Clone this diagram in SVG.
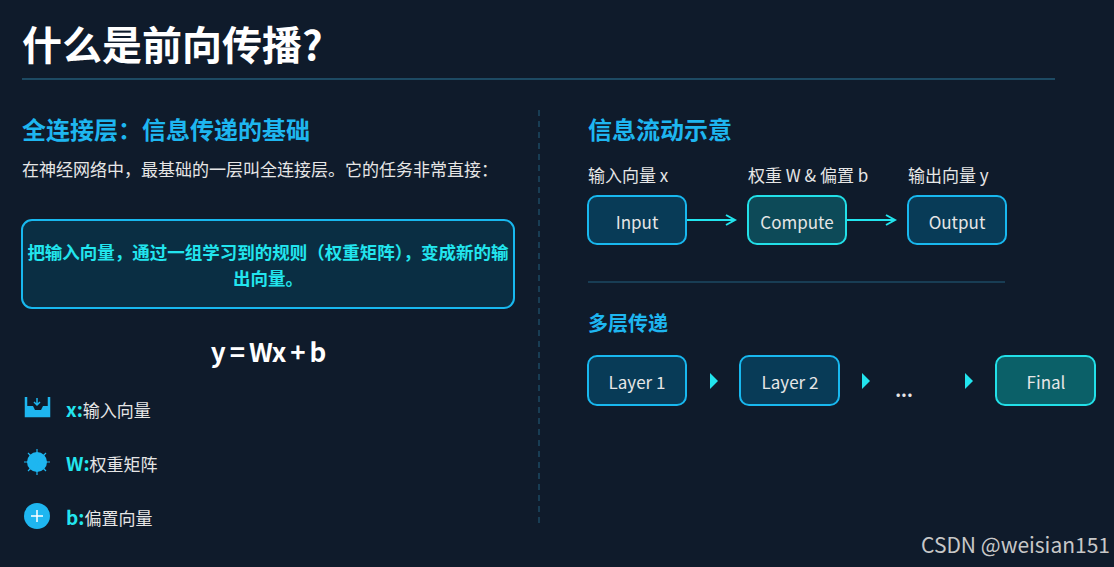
<svg xmlns="http://www.w3.org/2000/svg" width="1114" height="567" viewBox="0 0 1114 567">
<style>
text{font-family:"Noto Sans CJK SC","Noto Sans",sans-serif}
.h{fill:#1eb6f0;font-size:24px;font-weight:bold}
.t{fill:#e6e6e6;font-size:17px}
.bl{fill:#e6e6e6;font-size:17px;text-anchor:middle}
.nb{fill:#083b57;stroke:#18b8ef;stroke-width:2}
.nc{fill:#0d4a58;stroke:#22e0e8;stroke-width:2}
.nf{fill:#0b6068;stroke:#22e0e8;stroke-width:2}
.k{fill:#22e5ee;font-weight:bold;font-size:19px}
</style>
<defs><marker id="a" markerWidth="12" markerHeight="12" refX="10" refY="6" orient="auto" markerUnits="userSpaceOnUse"><path d="M1,1 L10,6 L1,11" fill="none" stroke="#22e5ee" stroke-width="2"/></marker></defs>
<rect width="1114" height="567" fill="#0f1b2b"/>
<text x="22" y="60" fill="#fff" font-size="40" font-weight="bold">什么是前向传播?</text>
<line x1="22" y1="79" x2="1055" y2="79" stroke="#1d4a63" stroke-width="2"/>
<line x1="539" y1="110" x2="539" y2="525" stroke="#1d4a63" stroke-width="1.5" stroke-dasharray="6,5"/>
<text class="h" x="22" y="139">全连接层：信息传递的基础</text>
<text class="t" x="22" y="176">在神经网络中，最基础的一层叫全连接层。它的任务非常直接：</text>
<g id="callout"><rect x="22" y="220" width="492" height="88" rx="10" fill="#0a2e43" stroke="#18b8ef" stroke-width="2"/>
<text x="268" y="259" fill="#22e5ee" font-size="17.5" font-weight="bold" text-anchor="middle">把输入向量，通过一组学习到的规则（权重矩阵），变成新的输</text>
<text x="268" y="285" fill="#22e5ee" font-size="17.5" font-weight="bold" text-anchor="middle">出向量。</text></g>
<text x="268" y="362" fill="#fff" font-size="26" font-weight="bold" text-anchor="middle" letter-spacing="-1">y = Wx + b</text>
<g id="legend-x"><path d="M26,397 v19 h23 v-19" fill="none" stroke="#1eb6f0" stroke-width="2.5"/><path d="M26,406 h7 l2,4 h6 l2,-4 h6 v10 h-23z" fill="#1eb6f0"/><path d="M37,398 v7 M34,402 l3,3 l3,-3" fill="none" stroke="#1eb6f0" stroke-width="1.5"/>
<text x="66" y="417"><tspan class="k">x:</tspan><tspan class="t">输入向量</tspan></text></g>
<g id="legend-w"><circle cx="37" cy="462" r="10" fill="#1eb6f0"/><path d="M37,449v26M24,462h26M28,453l18,18M46,453l-18,18" stroke="#1eb6f0" stroke-width="1.2"/>
<text x="66" y="471"><tspan class="k">W:</tspan><tspan class="t">权重矩阵</tspan></text></g>
<g id="legend-b"><circle cx="37" cy="516" r="13" fill="#1eb6f0"/><path d="M37,510v12M31,516h12" stroke="#fff" stroke-width="1.5"/>
<text x="66" y="525"><tspan class="k">b:</tspan><tspan class="t">偏置向量</tspan></text></g>
<text class="h" x="588" y="139">信息流动示意</text>
<text class="t" x="588" y="182">输入向量 x</text>
<text class="t" x="748" y="182">权重 W &amp; 偏置 b</text>
<text class="t" x="908" y="182">输出向量 y</text>
<g id="input"><rect class="nb" x="588" y="196" width="98" height="48" rx="9"/><text class="bl" x="637" y="229">Input</text></g>
<g id="compute"><rect class="nc" x="748" y="196" width="98" height="48" rx="9"/><text class="bl" x="797" y="229">Compute</text></g>
<g id="output"><rect class="nb" x="908" y="196" width="98" height="48" rx="9"/><text class="bl" x="957" y="229">Output</text></g>
<g id="connectors">
<line x1="687" y1="220" x2="735" y2="220" stroke="#22e5ee" stroke-width="2" marker-end="url(#a)"/>
<line x1="847" y1="220" x2="895" y2="220" stroke="#22e5ee" stroke-width="2" marker-end="url(#a)"/>
<path d="M710,373 l8,8 l-8,8z M862,373 l8,8 l-8,8z M965,373 l8,8 l-8,8z" fill="#22e5ee"/>
</g>
<line x1="588" y1="282" x2="1005" y2="282" stroke="#1d4a63" stroke-width="1.5"/>
<text class="h" x="588" y="331" style="font-size:20px">多层传递</text>
<g id="layer1"><rect class="nb" x="588" y="356" width="98" height="49" rx="9"/><text class="bl" x="637" y="389">Layer 1</text></g>
<g id="layer2"><rect class="nb" x="740" y="356" width="99" height="49" rx="9"/><text class="bl" x="790" y="389">Layer 2</text></g>
<text x="904" y="397" fill="#e6e6e6" font-size="18" font-weight="bold" text-anchor="middle">...</text>
<g id="final"><rect class="nf" x="996" y="356" width="99" height="49" rx="9"/><text class="bl" x="1046" y="389">Final</text></g>
<text x="1110" y="553" fill="#c8c8c8" font-size="21" text-anchor="end" font-family="Liberation Sans,sans-serif">CSDN @weisian151</text>
</svg>
